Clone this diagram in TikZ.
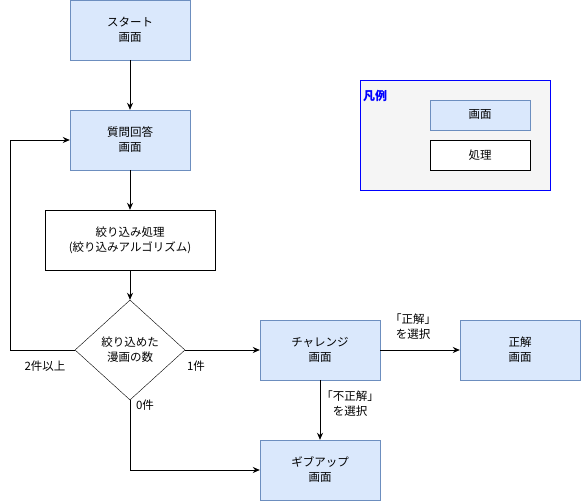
\documentclass[tikz,border=0pt]{standalone}
\usepackage{fontspec}
\setmainfont{Noto Sans CJK JP}
\usetikzlibrary{arrows.meta,shapes.geometric}
\definecolor{scrfill}{HTML}{DAE8FC}
\definecolor{scrline}{HTML}{6C8EBF}
\definecolor{legfill}{HTML}{F5F5F5}
\definecolor{legline}{HTML}{0000FF}
\tikzset{
  x=1pt,y=-1pt,
  every node/.style={font=\fontsize{11.5}{15}\selectfont, align=center, inner sep=0pt},
  scr/.style={draw=scrline, fill=scrfill, minimum width=120pt, minimum height=60pt},
  proc/.style={draw=black, fill=white, minimum width=170pt, minimum height=60pt},
  conn/.style={draw=black, line width=0.8pt, -{Stealth[length=7pt,width=6pt]}},
  lbl/.style={font=\fontsize{11.5}{15}\selectfont}
}
\begin{document}
\begin{tikzpicture}
\useasboundingbox (0,0) rectangle (581,502);
% legend
\node[draw=legline, fill=legfill, line width=0.8pt, minimum width=190pt, minimum height=110pt] (legend) at (455,135) {};
\node[anchor=west, text=legline, font=\bfseries\fontsize{12}{14}\selectfont] (legtitle) at (363,96) {凡例};
\node[scr, minimum width=100pt, minimum height=30pt] (legscr) at (480,115) {画面};
\node[draw=black, fill=white, line width=0.8pt, minimum width=100pt, minimum height=30pt] (legproc) at (480,155) {処理};
% main
\node[scr] (start) at (130,30) {スタート\\画面};
\node[scr] (q) at (130,140) {質問回答\\画面};
\node[proc] (filter) at (130,240) {絞り込み処理\\(絞り込みアルゴリズム)};
\node[draw=black, fill=white, diamond, minimum width=110pt, minimum height=100pt, inner sep=0pt] (d) at (130,350) {};
\node (dtext) at (130,350) {絞り込めた\\漫画の数};
\node[scr] (ch) at (320,350) {チャレンジ\\画面};
\node[scr] (ok) at (520,350) {正解\\画面};
\node[scr] (gu) at (320,470) {ギブアップ\\画面};
\coordinate (c1) at (10,350);
\coordinate (c2) at (10,140);
\coordinate (c3) at (130,470);
\draw[conn] (start) -- (q);
\draw[conn] (q) -- (filter);
\draw[conn] (filter) -- (d.north);
\draw[conn] (d.west) -- (c1) -- (c2) -- (q.west);
\draw[conn] (d.east) -- (ch.west);
\draw[conn] (d.south) -- (c3) -- (gu.west);
\draw[conn] (ch) -- (ok);
\draw[conn] (ch) -- (gu);
\node[lbl] (l2) at (45,366) {2件以上};
\node[lbl] (l1) at (196,366) {1件};
\node[lbl] (l0) at (145,405) {0件};
\node[lbl] (lok) at (413,327) {「正解」\\を選択};
\node[lbl] (lng) at (350,404) {「不正解」\\を選択};
\end{tikzpicture}
\end{document}
